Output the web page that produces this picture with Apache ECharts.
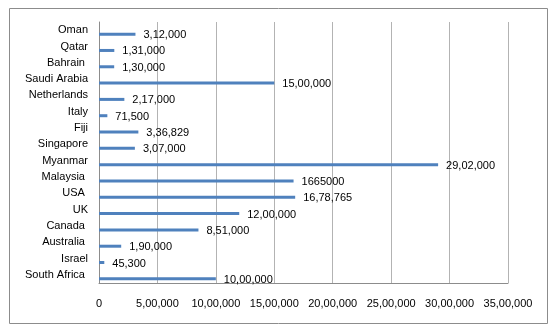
<!DOCTYPE html>
<html>
<head>
<meta charset="utf-8">
<script src="https://cdn.jsdelivr.net/npm/echarts@6/dist/echarts.min.js"></script>
<style>html,body{margin:0;padding:0;background:#fff}#c{width:555px;height:333px}</style>
</head>
<body>
<div id="c"></div>
<script>
const categories = ['Oman', 'Qatar', 'Bahrain ', 'Saudi Arabia', 'Netherlands', 'Italy', 'Fiji', 'Singapore', 'Myanmar', 'Malaysia ', 'USA ', 'UK', 'Canada ', 'Australia ', 'Israel', 'South Africa '];
const values = [312000, 131000, 130000, 1500000, 217000, 71500, 336829, 307000, 2902000, 1665000, 1678765, 1200000, 851000, 190000, 45300, 1000000];
const valueLabels = ['3,12,000', '1,31,000', '1,30,000', '15,00,000', '2,17,000', '71,500', '3,36,829', '3,07,000', '29,02,000', '1665000', '16,78,765', '12,00,000', '8,51,000', '1,90,000', '45,300', '10,00,000'];
const tickLabels = ['0', '5,00,000', '10,00,000', '15,00,000', '20,00,000', '25,00,000', '30,00,000', '35,00,000'];

const chart = echarts.init(document.getElementById('c'));
const font = 'Liberation Sans, Arial, sans-serif';
chart.setOption({
  animation: false,
  grid: { left: 99, right: 47, top: 22, bottom: 50, containLabel: false },
  graphic: [{
    type: 'rect', shape: { x: 9.5, y: 8.5, width: 538, height: 315 },
    style: { fill: null, stroke: '#8c8c8c', lineWidth: 1 }, silent: true, z: -1
  }],
  xAxis: {
    type: 'value', min: 0, max: 3500000, interval: 500000,
    axisLine: { show: true, lineStyle: { color: '#8c8c8c', width: 1 } },
    axisTick: { show: false },
    splitLine: { show: true, lineStyle: { color: '#b3b3b3', width: 1 } },
    axisLabel: {
      margin: 15, color: '#000', fontFamily: font, fontSize: 11,
      formatter: v => tickLabels[Math.round(v / 500000)]
    }
  },
  yAxis: {
    type: 'category', data: categories, inverse: true,
    axisLine: { show: true, lineStyle: { color: '#8c8c8c', width: 1 } },
    axisTick: { show: false },
    axisLabel: { margin: 11, color: '#000', fontFamily: font, fontSize: 11, padding: [2, 0, 0, 0] }
  },
  series: [
    {
      type: 'bar', data: values, barWidth: 3, barGap: '166%',
      itemStyle: { color: 'rgba(0,0,0,0)' }, silent: true
    },
    {
      type: 'bar', data: values, barWidth: 3, barGap: '166%',
      itemStyle: { color: '#4f81bd' },
      label: {
        show: true, position: 'right', distance: 8, color: '#000',
        fontFamily: font, fontSize: 11, offset: [0, 1],
        formatter: p => valueLabels[p.dataIndex]
      }
    }
  ]
});
</script>
</body>
</html>
